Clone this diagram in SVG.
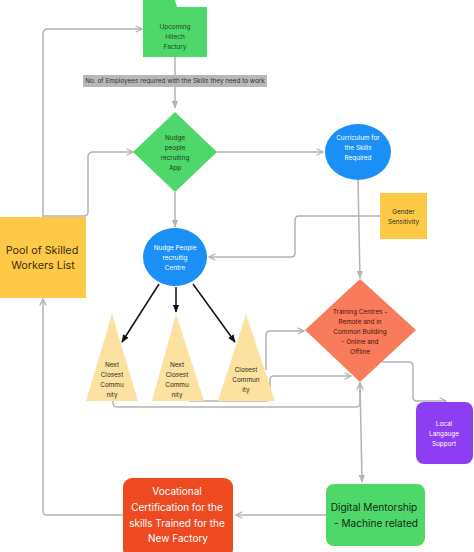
<svg xmlns="http://www.w3.org/2000/svg" width="474" height="552" viewBox="0 0 474 552">
<defs>
<marker id="ga" viewBox="0 0 10 10" refX="9" refY="5" markerWidth="8" markerHeight="8" orient="auto" markerUnits="userSpaceOnUse">
<path d="M1,1 L9,5 L1,9" fill="none" stroke="#b3b3b3" stroke-width="1.6"/>
</marker>
<marker id="gd" viewBox="0 0 10 10" refX="9" refY="5" markerWidth="8" markerHeight="8" orient="auto" markerUnits="userSpaceOnUse">
<path d="M0,1 L10,5 L0,9 Z" fill="#b3b3b3"/>
</marker>
<marker id="ba" viewBox="0 0 10 10" refX="9" refY="5" markerWidth="8" markerHeight="8" orient="auto" markerUnits="userSpaceOnUse">
<path d="M0,1 L10,5 L0,9 Z" fill="#111"/>
</marker>
</defs>
<style>
text{font-family:Inter,"Liberation Sans",sans-serif;text-anchor:middle}
.s{font-size:6.4px}
.c{fill:none;stroke:#b3b3b3;stroke-width:1.5;stroke-linejoin:round}
.k{fill:none;stroke:#111;stroke-width:1.5}
.w{fill:#fff}
.d{fill:#2a2a1a}
</style>
<g id="connectors">
<path class="c" d="M43,217 V34 Q43,29 48,29 H142" marker-end="url(#ga)"/>
<path class="c" d="M43,216 H84 Q88,216 88,212 V157 Q88,152 93,152 H133" marker-end="url(#ga)"/>
<path class="c" d="M175,57 V108" marker-end="url(#gd)"/>
<path class="c" d="M217,152 H323" marker-end="url(#ga)"/>
<path class="c" d="M175,192 V227" marker-end="url(#gd)"/>
<path class="c" d="M380,216 H299 Q295,216 295,220 V253 Q295,257 291,257 H209" marker-end="url(#ga)"/>
<path class="c" d="M358,180 L360,278" marker-end="url(#gd)"/>
<path class="c" d="M266,370 V335 Q266,331 270,331 H304" marker-end="url(#ga)"/>
<path class="c" d="M189,401 H266 Q270,401 270,397 V380 Q270,376 274,376 H351" marker-end="url(#ga)"/>
<path class="c" d="M113,400 V403 Q113,407 117,407 H356 Q360,407 360,403 V383" marker-end="url(#ga)"/>
<path class="c" d="M360,382 L362,482" marker-end="url(#gd)"/>
<path class="c" d="M382,362 H409 Q413,362 413,366 V397 Q413,401 417,401 H446" marker-end="url(#ga)"/>
<path class="c" d="M326,515 H236" marker-end="url(#ga)"/>
<path class="c" d="M123,515 H47 Q43,515 43,511 V299" marker-end="url(#ga)"/>
<path class="k" d="M159,284 L122,342" marker-end="url(#ba)"/>
<path class="k" d="M176,287 V312" marker-end="url(#ba)"/>
<path class="k" d="M193,284 L235,342" marker-end="url(#ba)"/>
</g>
<rect x="83" y="75" width="184" height="12" fill="#b8b8b8"/>
<text x="175" y="83.3" class="s" fill="#333">No. of Employees required with the Skills they need to work</text>
<g id="factory">
<path d="M143,0 H175 L177,7 H207 V57 H143 Z" fill="#4fd86a"/>
<text class="s" fill="#1b4a1b"><tspan x="175" y="29">Upcoming</tspan><tspan x="175" y="39">Hitech</tspan><tspan x="175" y="49">Factory</tspan></text>
</g>
<g id="app">
<path d="M175,112 L217,152 L175,192 L133,152 Z" fill="#4fd86a"/>
<text class="s" fill="#1b3a1b"><tspan x="175" y="140">Nudge</tspan><tspan x="175" y="150">people</tspan><tspan x="175" y="160">recruiting</tspan><tspan x="175" y="170">App</tspan></text>
</g>
<g id="curriculum">
<ellipse cx="358" cy="152" rx="33" ry="28" fill="#1a8ff5"/>
<text class="s w"><tspan x="358" y="140">Curriculum for</tspan><tspan x="358" y="150">the Skills</tspan><tspan x="358" y="160">Required</tspan></text>
</g>
<g id="pool">
<rect x="0" y="217" width="86" height="81" fill="#fdc946"/>
<text font-size="10.8" fill="#3a2e10"><tspan x="42" y="254">Pool of Skilled</tspan><tspan x="43" y="269">Workers List</tspan></text>
</g>
<g id="gender">
<rect x="380" y="193" width="47" height="46" fill="#fdc946"/>
<text class="s d"><tspan x="403.5" y="214">Gender</tspan><tspan x="403.5" y="224">Sensitivity</tspan></text>
</g>
<g id="centre">
<ellipse cx="175" cy="257" rx="32" ry="29" fill="#1a8ff5"/>
<text class="s w"><tspan x="175" y="250">Nudge People</tspan><tspan x="175" y="260">recruitig</tspan><tspan x="175" y="270">Centre</tspan></text>
</g>
<g id="tri1">
<path d="M112,314 L138,401 H86 Z" fill="#fbe2a0"/>
<text class="s d"><tspan x="112" y="367">Next</tspan><tspan x="112" y="377">Closest</tspan><tspan x="112" y="387">Commu</tspan><tspan x="112" y="397">nity</tspan></text>
</g>
<g id="tri2">
<path d="M176,314 L204,401 H152 Z" fill="#fbe2a0"/>
<text class="s d"><tspan x="177" y="367">Next</tspan><tspan x="177" y="377">Closest</tspan><tspan x="177" y="387">Commu</tspan><tspan x="177" y="397">nity</tspan></text>
</g>
<g id="tri3">
<path d="M246,314 L275,401 H218 Z" fill="#fbe2a0"/>
<text class="s d"><tspan x="246" y="372">Closest</tspan><tspan x="246" y="382">Commun</tspan><tspan x="246" y="392">ity</tspan></text>
</g>
<g id="training">
<path d="M360,279 L416,330 L360,382 L305,330 Z" fill="#f87b5c"/>
<text class="s" fill="#4a1408"><tspan x="360" y="314">Training Centres -</tspan><tspan x="360" y="324">Remote and in</tspan><tspan x="360" y="334">Common Building</tspan><tspan x="360" y="344">- Online and</tspan><tspan x="360" y="354">Offline</tspan></text>
</g>
<g id="local">
<rect x="416" y="402" width="57" height="62" rx="8" fill="#8e3ef2"/>
<text class="s w"><tspan x="444" y="426">Local</tspan><tspan x="444" y="436">Langauge</tspan><tspan x="444" y="446">Support</tspan></text>
</g>
<g id="digital">
<rect x="326" y="484" width="99" height="62" rx="8" fill="#4fd86a"/>
<text font-size="10.1" fill="#0f2a12"><tspan x="374" y="511">Digital Mentorship</tspan><tspan x="376" y="527">- Machine related</tspan></text>
</g>
<g id="vocational">
<rect x="123" y="478" width="110" height="80" rx="9" fill="#ee4a22"/>
<text font-size="10" class="w"><tspan x="177" y="495">Vocational</tspan><tspan x="177" y="511">Certification for the</tspan><tspan x="177" y="527">skills Trained for the</tspan><tspan x="178" y="542">New Factory</tspan></text>
</g>
</svg>
